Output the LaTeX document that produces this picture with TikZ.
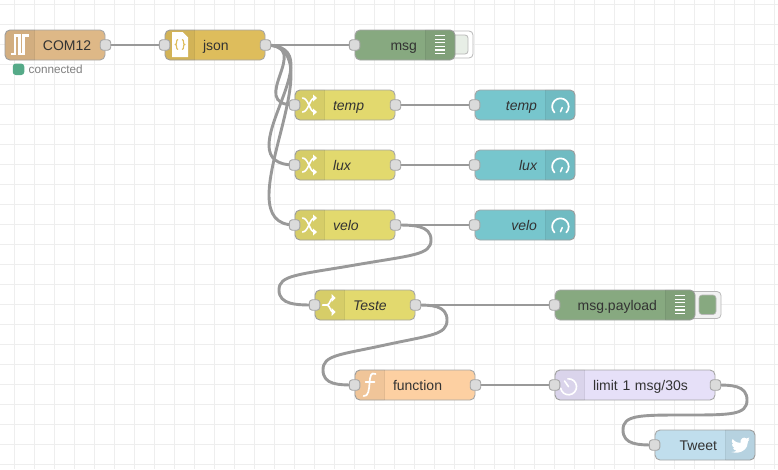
\documentclass[tikz,border=0pt]{standalone}
\usepackage{fontspec}
\setmainfont{Liberation Sans}
\usetikzlibrary{backgrounds,calc}
\definecolor{wire}{HTML}{999999}
\definecolor{edge}{HTML}{A6A6A6}
\definecolor{gridc}{HTML}{EEEEEE}
\definecolor{txt}{HTML}{333333}
\definecolor{cSerial}{HTML}{DEB887}
\definecolor{cJson}{HTML}{DEBD5C}
\definecolor{cDebug}{HTML}{87A980}
\definecolor{cSwitch}{HTML}{E2D96E}
\definecolor{cGauge}{HTML}{77C6CD}
\definecolor{cFunc}{HTML}{FDD0A2}
\definecolor{cDelay}{HTML}{E6E0F8}
\definecolor{cTweet}{HTML}{C0DEED}
\definecolor{cBrace}{HTML}{DEBD5C}
\definecolor{cStat}{HTML}{55AA88}
\tikzset{
  nr/.style={draw=edge,line width=0.9pt,rounded corners=5pt,minimum height=30pt,inner sep=0pt,
    font=\fontsize{14}{16}\selectfont,text=txt,text height=12pt,text depth=2pt},
  nl/.style={nr,minimum width=#1,text width=#1,align=left,execute at begin node=\hspace*{38pt}},
  nrr/.style={nr,minimum width=#1,text width=#1,align=right,execute at end node=\hspace*{38pt}},
  it/.style={font=\fontsize{14}{16}\selectfont\itshape},
  port/.style={draw=edge,fill=black!14,line width=0.9pt,rounded corners=3pt,minimum size=10.5pt,inner sep=0pt},
  wireS/.style={draw=wire,line width=2.9pt},
  ico/.style={draw=white,line width=1.6pt,line cap=round,line join=round},
  band/.style={fill=black,fill opacity=0.05},
  bandline/.style={draw=black,draw opacity=0.07,line width=0.8pt},
  sideout/.style={draw=wire!70,fill=#1,line width=0.8pt,rounded corners=4pt},
}
\newcommand{\bandL}[1]{%
  \fill[band] ($(#1.north west)+(30,0)$) [rounded corners=5pt] -- (#1.north west) -- (#1.south west) [sharp corners] -- ($(#1.south west)+(30,0)$) -- cycle;
  \draw[bandline] ($(#1.north west)+(30,0)$) -- ($(#1.south west)+(30,0)$);}
\newcommand{\bandR}[1]{%
  \fill[band] ($(#1.north east)+(-30,0)$) [rounded corners=5pt] -- (#1.north east) -- (#1.south east) [sharp corners] -- ($(#1.south east)+(-30,0)$) -- cycle;
  \draw[bandline] ($(#1.north east)+(-30,0)$) -- ($(#1.south east)+(-30,0)$);}
\newcommand{\shuffleIcon}[1]{\begin{scope}[shift={(#1.west)}]
  \draw[ico] (8,-7) .. controls (14,-7) and (15,7) .. (20,7);
  \draw[ico] (8,7) .. controls (14,7) and (15,-7) .. (20,-7);
  \fill[white] (18.5,-10.5) -- (22.5,-7) -- (18.5,-3.5) -- cycle;
  \fill[white] (18.5,3.5) -- (22.5,7) -- (18.5,10.5) -- cycle;
\end{scope}}
\newcommand{\gaugeIcon}[1]{\begin{scope}[shift={($(#1.east)+(-15,0)$)}]
  \draw[ico,line width=1.7pt] (-5.9,7.5) arc[start angle=135,end angle=405,radius=8.3];
  \draw[ico,line width=1.5pt] (0,6.7) -- (1.8,2.6);
\end{scope}}
\newcommand{\debugIcon}[1]{\begin{scope}[shift={($(#1.east)+(-15,0)$)}]
  \foreach \yy in {-9.5,-5.9,-2.3,1.3,4.9,8.5} \draw[draw=white,line width=1.2pt] (-5,\yy) -- (5,\yy);
\end{scope}}
\begin{document}
\begin{tikzpicture}[x=1pt,y=-1pt]
\useasboundingbox (0,0) rectangle (778,469);

% nodes
\draw[sideout=white] (450,31) rectangle (473,58);
\draw[draw=wire!70,fill=cDebug!20,line width=0.8pt,rounded corners=3pt] (450,35) rectangle (468,54);
\node[nl=100pt,fill=cSerial] (com) at (55,45) {COM12};
\node[nl=100pt,fill=cJson] (json) at (215,45) {json};
\node[nrr=100pt,fill=cDebug] (msg) at (405,45) {msg};
\node[nl=100pt,fill=cSwitch,it] (temp) at (345,105) {temp};
\node[nl=100pt,fill=cSwitch,it] (lux) at (345,165) {lux};
\node[nl=100pt,fill=cSwitch,it] (velo) at (345,225) {velo};
\node[nrr=100pt,fill=cGauge,it] (gtemp) at (525,105) {temp};
\node[nrr=100pt,fill=cGauge,it] (glux) at (525,165) {lux};
\node[nrr=100pt,fill=cGauge,it] (gvelo) at (525,225) {velo};
\node[nl=100pt,fill=cSwitch,it] (teste) at (365,305) {Teste};
\draw[sideout=black!5] (690,291.5) rectangle (721,318.5);
\fill[cDebug,draw=wire!70,line width=0.6pt,rounded corners=3pt] (699,295) rectangle (716,314.5);
\node[nrr=140pt,fill=cDebug] (mp) at (625,305) {msg.payload};
\node[nl=120pt,fill=cFunc] (func) at (415,385) {function};
\node[nl=160pt,fill=cDelay] (limit) at (635,385) {limit 1 msg/30s};
\node[nrr=100pt,fill=cTweet] (tweet) at (705,445) {Tweet};

% status
\node[fill=cStat,minimum size=11.5pt,inner sep=0pt,rounded corners=3pt] (dot) at (18.5,69.3) {};
\node[anchor=base west,inner sep=0pt,text=black!50,font=\fontsize{11.7}{14}\selectfont] (status) at (28.5,73.5) {connected};

% bands
\bandL{com}\bandL{json}\bandL{temp}\bandL{lux}\bandL{velo}\bandL{teste}\bandL{func}\bandL{limit}
\bandR{msg}\bandR{gtemp}\bandR{glux}\bandR{gvelo}\bandR{mp}\bandR{tweet}

% icons
\begin{scope}[shift={(com.west)}]
  \draw[ico,line cap=butt,line join=miter,line width=2.4pt] (6,9) -- (10.5,9) -- (10.5,-9.5) -- (15,-9.5) -- (15,9) -- (19,9) -- (19,-9.5) -- (24,-9.5);
\end{scope}
\begin{scope}[shift={(json.west)}]
  \fill[white] (7.5,-13) -- (18,-13) -- (23.5,-7.5) -- (23.5,12) -- (7.5,12) -- cycle;
  \draw[cBrace,line width=1.1pt] (13.5,-5.5) .. controls (11,-5.5) and (13,-0.5) .. (10.8,-0.5) .. controls (13,-0.5) and (11,4.5) .. (13.5,4.5);
  \draw[cBrace,line width=1.1pt] (17.5,-5.5) .. controls (20,-5.5) and (18,-0.5) .. (20.2,-0.5) .. controls (18,-0.5) and (20,4.5) .. (17.5,4.5);
\end{scope}
\shuffleIcon{temp}\shuffleIcon{lux}\shuffleIcon{velo}
\gaugeIcon{gtemp}\gaugeIcon{glux}\gaugeIcon{gvelo}
\debugIcon{msg}\debugIcon{mp}
\begin{scope}[shift={(teste.west)}]
  \draw[ico] (8,0) -- (12,0) .. controls (16,0) and (15,-7) .. (19,-7);
  \draw[ico] (12,0) .. controls (16,0) and (15,7) .. (19,7);
  \fill[white] (17,-11) -- (21,-7) -- (17,-3) -- cycle;
  \fill[white] (17,3) -- (21,7) -- (17,11) -- cycle;
\end{scope}
\begin{scope}[shift={(func.west)}]
  \draw[ico,line width=1.7pt] (21,-11) .. controls (16,-13.5) and (15.5,-8) .. (15,-2) .. controls (14.5,4) and (14,12) .. (9,11);
  \draw[ico,line width=1.5pt] (11,-3) -- (20,-3);
\end{scope}
\begin{scope}[shift={(limit.west)}]
  \draw[ico] (13.3,-6.2) arc[start angle=265,end angle=530,radius=8];
  \draw[ico] (14,1.7) -- (10,-4);
\end{scope}
\begin{scope}[shift={($(tweet.east)+(-15,0)$)}]
  \fill[white] (-8,-6) .. controls (-5,-3) and (-3,-2) .. (0,-2) .. controls (-0.5,-6) and (3,-9) .. (6,-6.5) -- (9,-7.5) -- (7.5,-5) -- (9,-5.5) -- (7.5,-3.5) .. controls (8,3) and (1,10) .. (-9,7) .. controls (-6,7) and (-5,6.5) .. (-4,5.5) .. controls (-6,5.5) and (-7,4) .. (-7.5,3) -- (-6,3) .. controls (-8,2) and (-8.5,0) .. (-8.5,-1) -- (-7,-0.5) .. controls (-9,-2) and (-9,-4) .. (-8,-6) -- cycle;
\end{scope}

% ports
\node[port] (comO) at (com.east) {};
\node[port] (jsonI) at (json.west) {};
\node[port] (jsonO) at (json.east) {};
\node[port] (msgI) at (msg.west) {};
\node[port] (tempI) at (temp.west) {};
\node[port] (tempO) at (temp.east) {};
\node[port] (luxI) at (lux.west) {};
\node[port] (luxO) at (lux.east) {};
\node[port] (veloI) at (velo.west) {};
\node[port] (veloO) at (velo.east) {};
\node[port] (gtempI) at (gtemp.west) {};
\node[port] (gluxI) at (glux.west) {};
\node[port] (gveloI) at (gvelo.west) {};
\node[port] (testeI) at (teste.west) {};
\node[port] (testeO) at (teste.east) {};
\node[port] (mpI) at (mp.west) {};
\node[port] (funcI) at (func.west) {};
\node[port] (funcO) at (func.east) {};
\node[port] (limitI) at (limit.west) {};
\node[port] (limitO) at (limit.east) {};
\node[port] (tweetI) at (tweet.west) {};

% grid and wires
\begin{scope}[on background layer]
\fill[white] (0,0) rectangle (778,469);
\foreach \gx in {14,34,...,774} \draw[gridc,line width=0.8pt] (\gx,0) -- (\gx,469);
\foreach \gy in {4,24,...,464} \draw[gridc,line width=0.8pt] (0,\gy) -- (778,\gy);
\draw[wireS] (comO.center) -- (jsonI.center);
\draw[wireS] (jsonO.center) -- (msgI.center);
\draw[wireS] (jsonO.center) .. controls (315,45) and (245,105) .. (tempI.center);
\draw[wireS] (jsonO.center) .. controls (340,45) and (220,165) .. (luxI.center);
\draw[wireS] (jsonO.center) .. controls (340,45) and (220,225) .. (veloI.center);
\draw[wireS] (tempO.center) -- (gtempI.center);
\draw[wireS] (luxO.center) -- (gluxI.center);
\draw[wireS] (veloO.center) -- (gveloI.center);
\draw[wireS] (veloO.center) .. controls (413,225) and (431,225) .. (431,240)
  .. controls (431,255) and (413,255) .. (355,265)
  .. controls (297,275) and (279,275) .. (279,290)
  .. controls (279,305) and (297,305) .. (testeI.center);
\draw[wireS] (testeO.center) -- (mpI.center);
\draw[wireS] (testeO.center) .. controls (431,305) and (447,305) .. (447,320)
  .. controls (447,335) and (431,335) .. (385,345)
  .. controls (339,355) and (323,355) .. (323,370)
  .. controls (323,385) and (339,385) .. (funcI.center);
\draw[wireS] (funcO.center) -- (limitI.center);
\draw[wireS] (limitO.center) .. controls (731,385) and (747,385) .. (747,400)
  .. controls (747,415) and (731,415) .. (685,415)
  .. controls (639,415) and (623,415) .. (623,430)
  .. controls (623,445) and (639,445) .. (tweetI.center);
\end{scope}
\end{tikzpicture}
\end{document}
